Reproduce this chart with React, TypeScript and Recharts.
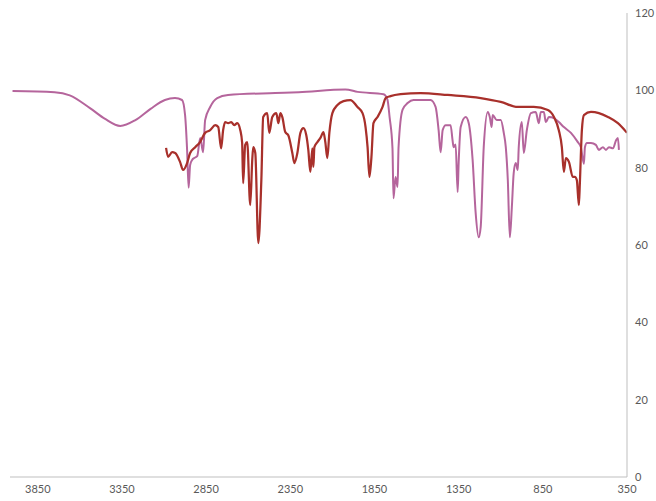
import { Line, LineChart, XAxis, YAxis } from "recharts";

// wavenumbers (cm-1) and % transmittance
const purpleWave = [
  4000, 3750, 3660, 3540, 3450, 3360, 3270, 3180, 3095, 3035, 2993, 2975, 2963, 2954, 2945, 2933,
  2921, 2903, 2885, 2868, 2856, 2826, 2784, 2720, 2440, 2300, 2023, 1950, 1796, 1773, 1760, 1743,
  1737, 1725, 1713, 1707, 1683, 1653, 1618, 1517, 1487, 1469, 1457, 1445, 1427, 1398, 1386, 1380,
  1368, 1356, 1350, 1338, 1308, 1290, 1267, 1249, 1231, 1219, 1201, 1177, 1165, 1154, 1148, 1124,
  1100, 1082, 1070, 1058, 1046, 1034, 1023, 1011, 999, 993, 975, 963, 945, 921, 892, 874,
  862, 844, 832, 814, 784, 755, 725, 683, 642, 624, 606, 600, 588, 564, 535, 517,
  493, 475, 457, 433, 415, 404, 398,
];
const purpleT = [
  99.8, 99.5, 98.7, 95.4, 92.6, 90.8, 92.3, 95.2, 97.5, 98.0, 97.5, 93.6, 84.6, 74.8, 80.7, 82,
  82.5, 83, 87.7, 84, 92.3, 95.7, 98, 98.8, 99.3, 99.5, 100.2, 99.6, 99.0, 97.6, 93, 85,
  72.1, 77.6, 75, 85.3, 95, 96.7, 97.5, 97.5, 95.7, 89.7, 84, 89.7, 91, 91, 87, 85.3,
  86, 73.7, 81.2, 90.5, 93.1, 91.5, 82, 68.3, 62, 64.7, 85.3, 94.4, 93.1, 90.5, 93.6, 92.3,
  92.3, 89, 85.3, 76.8, 62, 69.8, 78.6, 81.2, 79.4, 85.3, 91.8, 83.8, 89.7, 94.1, 94.4, 91.5,
  94.4, 94.4, 91.8, 93.1, 92.8, 91.8, 90.5, 89, 86.6, 85.3, 81, 85.3, 86.4, 86.4, 85.9, 84.6,
  85.3, 84.6, 85.3, 85, 87.1, 87.7, 84.6,
];

const redWave = [
  3088, 3076, 3052, 3034, 3005, 2987, 2963, 2945, 2915, 2886, 2856, 2826, 2796, 2778, 2761, 2749,
  2737, 2719, 2701, 2683, 2665, 2647, 2636, 2630, 2618, 2606, 2588, 2576, 2570, 2558, 2540, 2522,
  2511, 2487, 2475, 2457, 2433, 2421, 2409, 2397, 2380, 2362, 2338, 2326, 2308, 2290, 2272, 2255,
  2243, 2231, 2219, 2213, 2207, 2189, 2171, 2153, 2142, 2130, 2118, 2100, 2070, 2034, 1993, 1951,
  1921, 1903, 1891, 1880, 1868, 1856, 1832, 1802, 1784, 1755, 1695, 1576, 1415, 1219, 1100, 999,
  904, 820, 784, 755, 737, 725, 713, 695, 672, 660, 648, 636, 630, 618, 606, 564,
  517, 463, 404, 350,
];
const redT = [
  85.1, 82.8, 84, 83.8, 81.5, 79.4, 81.2, 83.8, 85.3, 86.6, 89, 89.7, 91, 90.5, 85, 89.7,
  91.8, 91.5, 91.8, 91, 91.5, 89.7, 86.4, 76, 85.9, 86.6, 70.3, 82, 85.3, 83.8, 60.5, 76.8,
  93.1, 94.1, 89, 93.1, 94.1, 91.5, 94.1, 93, 89.2, 88.4, 83.8, 81.2, 83.8, 89, 90.2, 88.4,
  84.6, 78.9, 85, 80.2, 85.3, 86.6, 87.7, 89.2, 86.6, 82.5, 89, 94.1, 96.2, 97.2, 97.5, 95.7,
  94.1, 90.5, 85.3, 77.6, 82.8, 91.5, 93.1, 95.7, 98, 98.5, 99, 99.3, 98.8, 98, 97, 95.7,
  95.7, 94.9, 93.1, 89.7, 85.3, 78.9, 82.5, 81.5, 77.6, 77.6, 76.8, 70.3, 76, 89.7, 93.6, 94.4,
  94.1, 93.1, 91.5, 89,
];

const xTicks = [3850, 3350, 2850, 2350, 1850, 1350, 850, 350];
const yTicks = [0, 20, 40, 60, 80, 100, 120];

const purpleData = purpleWave.map((w, i) => ({ w, t: purpleT[i] }));
const redData = redWave.map((w, i) => ({ w, t: redT[i] }));

const tickStyle = { fill: "#595959", fontSize: 11, fontFamily: "Lato, 'Open Sans', sans-serif" };

export default function App() {
  return (
    <div style={{ position: "absolute", left: 0, top: 0 }}>
      <LineChart width={656} height={501} margin={{ top: 13, right: 0, bottom: 0, left: 10 }}>
        <XAxis
          type="number"
          dataKey="w"
          domain={[350, 4015]}
          reversed
          ticks={xTicks}
          tickLine={false}
          axisLine={{ stroke: "#bfbfbf" }}
          tick={tickStyle}
          height={24}
          allowDataOverflow
        />
        <YAxis
          orientation="right"
          domain={[0, 120]}
          ticks={yTicks}
          tickLine={false}
          axisLine={{ stroke: "#bfbfbf" }}
          tick={{ ...tickStyle, textAnchor: "start" }}
          width={29}
        />
        <Line
          data={purpleData}
          dataKey="t"
          type="monotone"
          stroke="#b5659c"
          strokeWidth={2}
          dot={false}
          isAnimationActive={false}
        />
        <Line
          data={redData}
          dataKey="t"
          type="monotone"
          stroke="#a8302b"
          strokeWidth={2.25}
          dot={false}
          isAnimationActive={false}
        />
      </LineChart>
    </div>
  );
}
